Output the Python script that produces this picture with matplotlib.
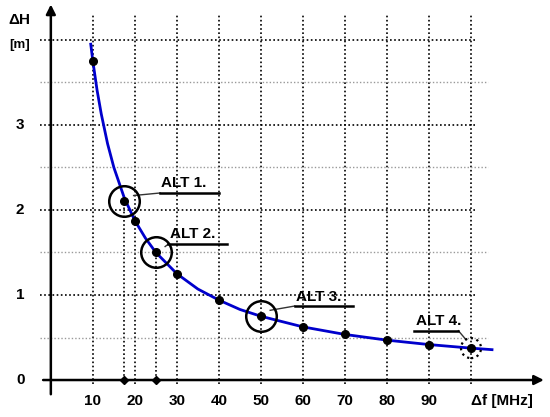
import matplotlib
matplotlib.use("Agg")
import matplotlib.pyplot as plt
from matplotlib.patches import Ellipse

curve_f = [9.5, 10, 11, 12, 13.5, 15, 17.5, 20, 22.5, 25, 30, 35, 40, 45, 50, 60, 70, 80, 90, 100, 105]
curve_h = [3.95, 3.75, 3.41, 3.13, 2.78, 2.5, 2.14, 1.875, 1.67, 1.5, 1.25, 1.07, 0.94, 0.83, 0.75, 0.625, 0.536, 0.469, 0.417, 0.375, 0.357]
pt_f = [10, 20, 30, 40, 60, 70, 80, 90]
pt_h = [3.75, 1.875, 1.25, 0.94, 0.625, 0.536, 0.469, 0.417]
alt_labels = ["ALT 1.", "ALT 2.", "ALT 3.", "ALT 4."]
alt_f = [17.5, 25, 50, 100]
alt_h = [2.1, 1.5, 0.75, 0.375]
# underline start/end (x) and y
ul_x0 = [26, 28, 58, 86.5]
ul_x1 = [40, 42, 72, 97]
ul_y = [2.2, 1.6, 0.87, 0.58]
xticks = [10, 20, 30, 40, 50, 60, 70, 80, 90]
yticks = [0, 1, 2, 3]

plt.rcParams['font.family'] = ['Liberation Sans', 'DejaVu Sans']
fig = plt.figure(figsize=(5.5, 4.17), dpi=100)
ax = fig.add_axes([0, 0, 1, 1])
ax.set_xlim(-12.1, 118.8)
ax.set_ylim(-0.435, 4.47)
ax.axis('off')

for v in [10, 20] + list(range(30, 101, 10)):
    ax.plot([v, v], [-0.05, 4.3], color='black', ls=(0, (1, 1.5)), lw=1.2, zorder=1)
for v, top in [(17.5, 2.1), (25, 1.5)]:
    ax.plot([v, v], [0, top], color='black', ls=(0, (1, 1.5)), lw=1.2, zorder=1)
    ax.plot([v], [0], marker='D', color='black', ms=4, zorder=4)
for v in [1, 2, 3, 4]:
    ax.plot([-2.5, 101], [v, v], color='black', ls=(0, (1, 1.5)), lw=1.2, zorder=1)
for v in [0.5, 1.5, 2.5, 3.5]:
    ax.plot([-2.5, 104], [v, v], color='#999999', ls=(0, (1, 1.5)), lw=1.0, zorder=1)

ax.annotate('', xy=(0, 4.45), xytext=(0, -0.2),
            arrowprops=dict(arrowstyle='-|>', color='black', lw=1.8, mutation_scale=14))
ax.annotate('', xy=(118, 0), xytext=(-2.5, 0),
            arrowprops=dict(arrowstyle='-|>', color='black', lw=1.8, mutation_scale=14))

ax.plot(curve_f, curve_h, color='#0000cc', lw=2, zorder=3)
ax.plot(pt_f, pt_h, 'o', color='black', ms=5.5, zorder=4)
ax.plot(alt_f, alt_h, 'o', color='black', ms=5.5, zorder=4)

for i, (lab, f, h) in enumerate(zip(alt_labels, alt_f, alt_h)):
    if i < 3:
        ax.plot([f], [h], 'o', mfc='none', mec='black', ms=22, mew=1.8, zorder=5)
        start = (f + 2.2, h + 0.07)
        end = (ul_x0[i], ul_y[i])
    else:
        ax.add_patch(Ellipse((f, h), 20 / 4.2, 20 / 85, fill=False, ls=':', lw=1.6, ec='black', zorder=5))
        start = (f - 1.2, h + 0.1)
        end = (ul_x1[i], ul_y[i])
    ax.plot([start[0], end[0]], [start[1], end[1]], color='#333333', lw=1, zorder=4)
    ax.plot([ul_x0[i], ul_x1[i]], [ul_y[i], ul_y[i]], color='black', lw=1.8, zorder=6)
    ax.text(ul_x0[i] + 0.3, ul_y[i] + 0.03, lab, fontsize=11, fontweight='bold',
            ha='left', va='bottom', zorder=6)

for v in xticks:
    ax.text(v, -0.25, str(v), ha='center', va='center', fontsize=11, fontweight='bold')
for v in yticks:
    ax.text(-7.3, v, str(v), ha='center', va='center', fontsize=11, fontweight='bold')
ax.text(100, -0.25, 'Δf [MHz]', ha='left', va='center', fontsize=11, fontweight='bold')
ax.text(-7.5, 4.23, 'ΔH', ha='center', va='center', fontsize=11, fontweight='bold')
ax.text(-7.5, 3.94, '[m]', ha='center', va='center', fontsize=9.5, fontweight='bold')

fig.savefig('out.png', dpi=100)
